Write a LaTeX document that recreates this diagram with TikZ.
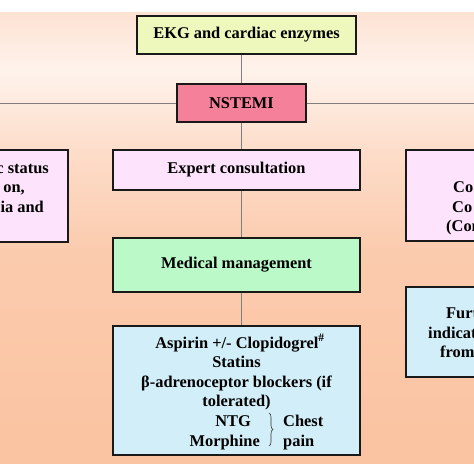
\documentclass[tikz,border=0pt]{standalone}
\usepackage{fontspec}
\setmainfont{Liberation Serif}
\usetikzlibrary{decorations.pathreplacing}
\definecolor{bgA}{HTML}{FAC3A1}
\definecolor{bgB}{HTML}{FBCBAE}
\definecolor{bgC}{HTML}{FDDDCA}
\definecolor{bgD}{HTML}{FEF3EC}
\definecolor{bgE}{HTML}{FDE2D3}
\definecolor{ekgfill}{HTML}{EEF7BC}
\definecolor{nstfill}{HTML}{F4809A}
\definecolor{pinkfill}{HTML}{FDE4FC}
\definecolor{greenfill}{HTML}{BBF9C9}
\definecolor{bluefill}{HTML}{D2EEF9}
\definecolor{linkgray}{HTML}{7F7F7F}
\pgfdeclareverticalshading{bgshade}{100bp}{color(0bp)=(bgA); color(25bp)=(bgA); color(48.6bp)=(bgB); color(59.7bp)=(bgC); color(68.6bp)=(bgD); color(75bp)=(bgE); color(100bp)=(bgE)}
\tikzset{
  box/.style={draw=black!90, line width=1.4pt, inner sep=0pt, font=\bfseries\fontsize{16.4}{19.5}\selectfont},
  txt/.style={inner sep=0pt, anchor=base, font=\bfseries\fontsize{16.4}{19.5}\selectfont},
  link/.style={draw=linkgray, line width=1pt},
  bracestyle/.style={draw=black!80, line width=0.6pt, decorate, decoration={brace, amplitude=4pt}}
}
\begin{document}
\begin{tikzpicture}[x=1pt,y=-1pt]
\useasboundingbox (0,0) rectangle (474,474);
\clip (0,0) rectangle (474,474);
\fill[white] (0,0) rectangle (474,474);
\shade[shading=bgshade] (0,12) rectangle (474,463);
% main boxes
\node[box, fill=ekgfill, minimum width=219pt, minimum height=38pt] (ekg) at (246.5,35) {EKG and cardiac enzymes};
\node[box, fill=nstfill, minimum width=129pt, minimum height=38pt] (nst) at (241.5,103) {NSTEMI};
\node[box, fill=pinkfill, minimum width=247pt, minimum height=40pt] (expert) at (236.5,170) {Expert consultation};
\node[box, fill=greenfill, minimum width=247pt, minimum height=54pt] (medical) at (236.5,265) {Medical management};
\node[box, fill=bluefill, minimum width=247pt, minimum height=129pt] (meds) at (236.5,390.5) {};
% partial side boxes
\node[box, fill=pinkfill, minimum width=88pt, minimum height=92pt] (leftbox) at (24,196) {};
\node[box, fill=pinkfill, minimum width=88pt, minimum height=91pt] (rtop) at (450,195.5) {};
\node[box, fill=bluefill, minimum width=88pt, minimum height=90pt] (rbot) at (450,332) {};
% connectors
\coordinate (ledge) at (0,103);
\coordinate (redge) at (474,103);
\draw[link] (nst.north) -- (nst.north |- ekg.south);
\draw[link] (nst.south) -- (nst.south |- expert.north);
\draw[link] (nst.south |- expert.south) -- (nst.south |- medical.north);
\draw[link] (nst.south |- medical.south) -- (nst.south |- meds.north);
\draw[link] (nst.west) -- (ledge);
\draw[link] (nst.east) -- (redge);
% medication text
\node[txt] (l1) at (240,348) {Aspirin +/- Clopidogrel\textsuperscript{\#}};
\node[txt] (l2) at (236.5,367.5) {Statins};
\node[txt] (l3) at (236.5,387) {β-adrenoceptor blockers (if};
\node[txt] (l4) at (236.5,406.5) {tolerated)};
\node[txt, anchor=base east] (ntg) at (251,426.5) {NTG};
\node[txt, anchor=base east] (morph) at (260,446) {Morphine};
\node[txt, anchor=base west] (chest) at (283,426.5) {Chest};
\node[txt, anchor=base west] (pain) at (283,446) {pain};
\coordinate (brtop) at (269,413);
\coordinate (brbot) at (269,446);
\draw[bracestyle] (brtop) -- (brbot);
% left box text fragments
\node[txt, anchor=base east] (lt1) at (49,173) {c status};
\node[txt, anchor=base east] (lt2) at (25,192.5) {on,};
\node[txt, anchor=base east] (lt3) at (44,212) {ia and};
% right top fragments
\node[txt, anchor=base west] (rt1) at (453,192.5) {Co};
\node[txt, anchor=base west] (rt2) at (452,212) {Co};
\node[txt, anchor=base west] (rt3) at (446,231.5) {(Con};
% right bottom fragments
\node[txt, anchor=base west] (rb1) at (446,318.5) {Furt};
\node[txt, anchor=base west] (rb2) at (428,338) {indicat};
\node[txt, anchor=base west] (rb3) at (440,357.5) {from};
\end{tikzpicture}
\end{document}
